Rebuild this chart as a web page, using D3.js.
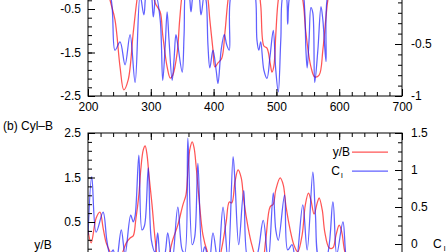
<!DOCTYPE html>
<html>
<head>
<meta charset="utf-8">
<script src="https://cdn.jsdelivr.net/npm/d3@7"></script>
<style>
  html, body { margin: 0; padding: 0; background: #fff; overflow: hidden; }
  svg text { font-family: "Liberation Sans", Arial, Helvetica, sans-serif; fill: #000; }
</style>
</head>
<body>
<div id="chart"></div>
<script>
// --- data: [t, value] ---
// panel (a): lower part only, y/B on left axis, C_l on right axis
const topYB = [[200,0.63],[219,0.74],[229,0.17],[235,-0.29],[243,-0.75],[251,-1.83],[257,-2.36],[264,-2.13],[272,-1.05],[278,-0.29],[286,0.40],[299,0.17],[307,-0.36],[315,-0.57],[319,-1.10],[326,-1.83],[331,-2.09],[335,-2.02],[342,-1.51],[346,-0.75],[351,-0.06],[362,0.52],[378,0.40],[390,-0.18],[394,-0.75],[399,-1.44],[402,-1.83],[407,-1.74],[413,-1.63],[418,-1.05],[423,-0.29],[431,0.40],[450,0.63],[469,0.17],[475,-0.41],[480,-1.35],[485,-1.40],[490,-1.74],[493,-1.95],[496,-1.81],[499,-1.10],[503,-0.29],[512,0.40],[530,0.40],[542,-0.29],[547,-1.05],[555,-1.83],[561,-2.06],[568,-2.02],[574,-1.44],[579,-0.68],[582,-0.29],[593,0.40],[617,0.63]];
const topCl = [[200,0.07],[211,0.12],[224,0.02],[235,-0.03],[243,-0.56],[251,-0.48],[259,-0.70],[267,-0.41],[275,-0.87],[283,-0.03],[289,-0.22],[294,0.02],[299,0.02],[304,-0.24],[308,-0.03],[315,-0.27],[319,-0.85],[323,-0.51],[326,-0.19],[329,-0.46],[334,-0.85],[337,-0.65],[340,-0.41],[343,-0.51],[350,-0.77],[353,-0.41],[356,0.02],[361,-0.03],[364,-0.19],[369,0.0],[375,0.0],[380,-0.22],[385,-0.03],[388,-0.08],[391,-0.51],[394,-0.73],[399,-0.56],[404,-0.75],[407,-0.88],[412,-0.56],[417,-0.41],[421,-0.51],[425,-0.56],[428,-0.03],[442,0.07],[461,0.02],[466,-0.03],[469,-0.46],[472,-0.56],[475,-0.48],[480,-0.75],[485,-0.83],[490,-0.61],[495,-0.37],[499,-0.75],[503,-0.96],[507,-0.46],[511,-0.03],[515,-0.03],[518,-0.31],[522,-0.03],[531,0.02],[542,-0.03],[545,-0.17],[547,-0.56],[549,-0.73],[552,-0.46],[555,-0.15],[558,-0.20],[561,-0.87],[566,-0.56],[571,-0.14],[574,-0.27],[579,-0.67],[582,-0.03],[593,0.07],[617,0.02]];
// panel (b) Cyl-B
const botYB = [[200,0.32],[205,0.03],[213,0.59],[219,0.72],[224,0.37],[229,0.03],[235,-0.17],[243,-0.40],[251,-0.31],[261,0.03],[267,0.14],[272,0.19],[276,0.54],[281,1.11],[284,1.67],[288,2.12],[291,2.21],[294,2.01],[297,1.56],[302,0.88],[307,0.10],[311,-0.31],[319,-0.47],[327,-0.31],[335,0.10],[343,0.43],[351,0.88],[356,1.11],[359,1.62],[362,2.12],[366,2.30],[369,2.16],[372,1.78],[377,0.99],[383,0.21],[390,-0.17],[397,-0.40],[407,-0.40],[413,-0.08],[420,0.50],[425,0.95],[429,0.93],[434,1.40],[439,1.67],[444,1.49],[448,0.99],[455,0.37],[461,-0.02],[468,-0.31],[477,-0.40],[483,0.10],[490,0.84],[495,0.90],[499,1.22],[506,1.49],[511,1.33],[515,0.88],[522,0.32],[528,-0.02],[534,-0.17],[541,0.21],[546,0.88],[551,1.15],[555,0.99],[560,0.68],[565,0.93],[568,1.04],[573,0.77],[577,0.28],[584,-0.08],[590,-0.08],[595,0.21],[600,0.43],[604,0.28],[609,-0.17],[617,-0.47]];
const botCl = [[200,0.12],[206,0.91],[213,0.16],[224,0.43],[230,0.05],[235,-0.14],[240,-0.08],[245,-0.24],[253,0.19],[259,-0.14],[268,0.39],[272,0.30],[275,0.38],[281,1.20],[286,0.19],[290,0.25],[296,1.03],[301,0.05],[307,-0.11],[311,0.15],[316,-0.22],[322,-0.15],[327,0.15],[334,-0.24],[343,0.50],[350,-0.08],[354,-0.12],[359,1.43],[366,-0.01],[370,0.10],[375,1.09],[382,-0.14],[386,-0.04],[393,-0.24],[399,0.15],[407,-0.24],[415,0.50],[423,-0.24],[431,1.18],[434,0.85],[440,-0.01],[448,0.72],[456,-0.24],[467,-0.20],[479,0.32],[487,-0.24],[495,0.69],[499,0.19],[503,0.05],[513,0.66],[518,-0.08],[525,-0.01],[531,-0.28],[542,0.53],[549,-0.08],[558,0.97],[562,0.42],[569,-0.22],[579,-0.20],[590,0.57],[596,-0.14],[606,0.30],[612,-0.22],[620,-0.35]];

// tick values (labelled ones that fall inside the window)
const xMajor = [200, 300, 400, 500, 600, 700];
const topLeftMajor = [-2.5, -1.5, -0.5];
const topRightMajor = [-1, -0.5];
const botLeftMajor = [0.5, 1.5, 2.5];
const botRightMajor = [0, 0.5, 1, 1.5];
const seriesNames = ['y/B', 'C'];

const W = 448, H = 252;
const RED = 'rgba(255,20,20,0.72)', BLUE = 'rgba(20,20,255,0.68)';

const svg = d3.select('#chart').append('svg')
  .attr('width', W).attr('height', H)
  .attr('viewBox', `0 0 ${W} ${H}`);

const x = d3.scaleLinear().domain([200, 700]).range([88, 402]);

const step = (a, b, s) => d3.range(0, Math.round((b - a) / s) + 1).map(i => +(a + i * s).toFixed(4));

const panels = [
  { id: 'a', top: -34.5, bottom: 96,
    yL: d3.scaleLinear().domain([-2.5, 0.5]).range([96, -34.5]),
    yR: d3.scaleLinear().domain([-1, 0.25]).range([96, -34]),
    lMaj: topLeftMajor, lMin: step(-2.5, 0.5, 0.2),
    rMaj: topRightMajor, rMin: step(-1, 0.2, 0.1),
    red: topYB, blue: topCl, xLabels: true },
  { id: 'b', top: 133, bottom: 266.5,
    yL: d3.scaleLinear().domain([-0.5, 2.5]).range([266.5, 133]),
    yR: d3.scaleLinear().domain([-0.3, 1.5]).range([266.2, 133]),
    lMaj: botLeftMajor, lMin: step(-0.5, 2.5, 0.2),
    rMaj: botRightMajor, rMin: step(-0.25, 1.5, 0.125),
    red: botYB, blue: botCl, xLabels: false }
];

const fmt = d => String(d);

panels.forEach(p => {
  const g = svg.append('g');
  const clipId = 'clip-' + p.id;
  svg.append('clipPath').attr('id', clipId).append('rect')
    .attr('x', 88).attr('y', p.top).attr('width', 314).attr('height', p.bottom - p.top);

  // curves
  const lineL = d3.line().x(d => x(d[0])).y(d => p.yL(d[1])).curve(d3.curveCatmullRom.alpha(0.5));
  const lineR = d3.line().x(d => x(d[0])).y(d => p.yR(d[1])).curve(d3.curveCatmullRom.alpha(0.5));
  const cg = g.append('g').attr('clip-path', `url(#${clipId})`);
  cg.append('path').datum(p.red).attr('d', lineL)
    .attr('fill', 'none').attr('stroke', RED).attr('stroke-width', 1.25);
  cg.append('path').datum(p.blue).attr('d', lineR)
    .attr('fill', 'none').attr('stroke', BLUE).attr('stroke-width', 1.25);

  // frame
  g.append('rect').attr('x', 88).attr('y', p.top).attr('width', 314).attr('height', p.bottom - p.top)
    .attr('fill', 'none').attr('stroke', '#000').attr('stroke-width', 1);

  const styleAxis = sel => {
    sel.select('.domain').remove();
    sel.selectAll('line').attr('stroke', '#000');
    sel.selectAll('text').attr('font-size', 12).attr('font-family', null).attr('fill', '#000');
  };

  // left axis
  g.append('g').attr('transform', 'translate(88,0)')
    .call(d3.axisLeft(p.yL).tickValues(p.lMaj).tickSize(-7).tickPadding(7).tickFormat(fmt))
    .call(styleAxis);
  g.append('g').attr('transform', 'translate(88,0)')
    .call(d3.axisLeft(p.yL).tickValues(p.lMin).tickSize(-4).tickFormat(''))
    .call(styleAxis);
  // right axis
  g.append('g').attr('transform', 'translate(402,0)')
    .call(d3.axisRight(p.yR).tickValues(p.rMaj).tickSize(-7).tickPadding(9).tickFormat(fmt))
    .call(styleAxis);
  g.append('g').attr('transform', 'translate(402,0)')
    .call(d3.axisRight(p.yR).tickValues(p.rMin).tickSize(-4).tickFormat(''))
    .call(styleAxis);
  // bottom axis
  g.append('g').attr('transform', `translate(0,${p.bottom})`)
    .call(d3.axisBottom(x).tickValues(xMajor).tickSize(-7).tickPadding(6).tickFormat(p.xLabels ? fmt : ''))
    .call(styleAxis);
  g.append('g').attr('transform', `translate(0,${p.bottom})`)
    .call(d3.axisBottom(x).tickValues(step(200, 700, 20)).tickSize(-4).tickFormat(''))
    .call(styleAxis);
  // top axis
  g.append('g').attr('transform', `translate(0,${p.top})`)
    .call(d3.axisTop(x).tickValues(xMajor).tickSize(-7).tickFormat(''))
    .call(styleAxis);
  g.append('g').attr('transform', `translate(0,${p.top})`)
    .call(d3.axisTop(x).tickValues(step(200, 700, 20)).tickSize(-4).tickFormat(''))
    .call(styleAxis);
});

// panel title and axis titles
svg.append('text').attr('x', 3).attr('y', 130).attr('font-size', 12).text('(b) Cyl\u2013B');
svg.append('text').attr('x', 43).attr('y', 249).attr('font-size', 12).attr('text-anchor', 'middle').text(seriesNames[0]);
const cr = svg.append('text').attr('x', 433).attr('y', 248).attr('font-size', 12);
cr.append('tspan').text(seriesNames[1]);
cr.append('tspan').attr('font-size', 8).attr('dx', 2).attr('dy', 3).text('l');

// legend
const legend = svg.append('g');
const legItems = [
  { y: 152, color: RED, label: seriesNames[0], sub: null },
  { y: 171, color: BLUE, label: seriesNames[1], sub: 'l' }
];
legItems.forEach(it => {
  legend.append('text').attr('x', it.sub ? 340 : 350).attr('y', it.y + 4)
    .attr('font-size', 12).attr('text-anchor', 'end').text(it.label);
  if (it.sub) legend.append('text').attr('x', 341).attr('y', it.y + 7).attr('font-size', 8).text(it.sub);
  legend.append('line').attr('x1', 352).attr('x2', 388).attr('y1', it.y).attr('y2', it.y)
    .attr('stroke', it.color).attr('stroke-width', 1.25);
});
</script>
</body>
</html>
